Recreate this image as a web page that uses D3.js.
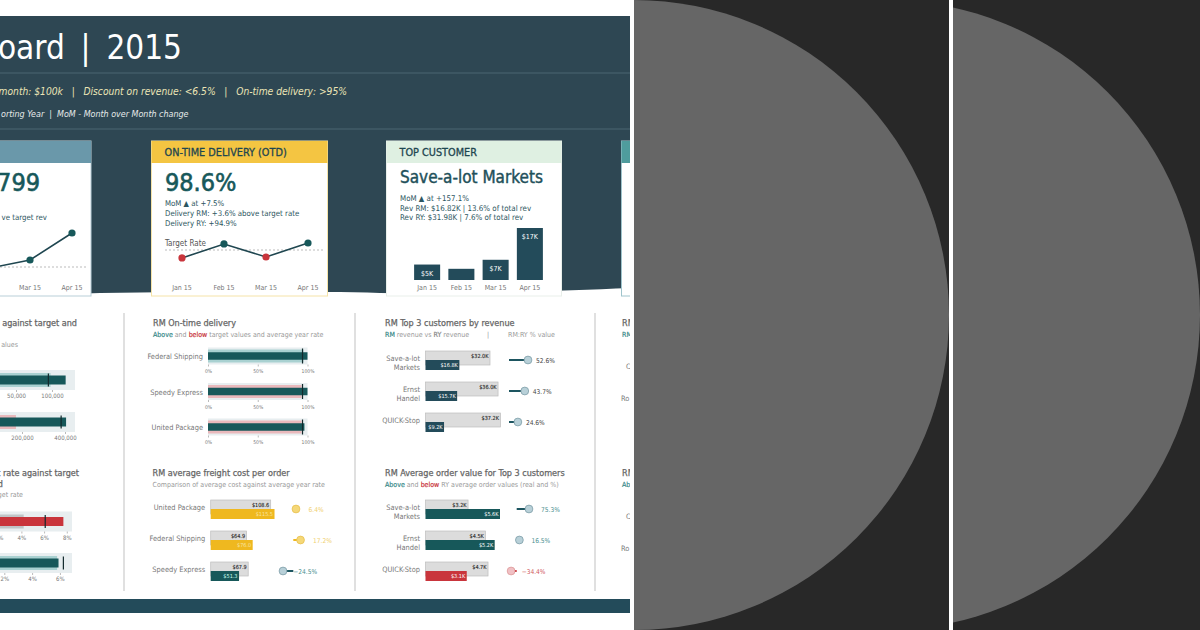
<!DOCTYPE html>
<html>
<head>
<meta charset="utf-8">
<script src="https://cdn.jsdelivr.net/npm/d3@7"></script>
<style>
  html, body { margin: 0; padding: 0; background: #fff; }
  svg { display: block; }
  text { font-family: "DejaVu Sans Condensed", "DejaVu Sans", sans-serif; font-stretch: condensed; white-space: pre; }
</style>
</head>
<body>
<div id="chart"></div>
<script>
// monthly data
const months = ["Jan 15", "Feb 15", "Mar 15", "Apr 15"];
const revenueK = [92, 99, 104.9, 123.8];
const otdRate = [90.9, 98.1, 91.4, 98.6];
const topCustomerK = [5.0, 3.62, 6.54, 16.82];
const topCustomerLabels = ["$5K", "", "$7K", "$17K"];

// bullet charts, left column
const revValues = [119000, 405000];
const revTargets = [95000, 382000];
const revYearAvg = [98000, 172000];
const discValues = [7.7, 5.9];
const discTargets = [6.1, 6.25];
const discYearAvg = [4.2, 5.8];

// on-time delivery bullets
const shippers = ["Federal Shipping", "Speedy Express", "United Package"];
const shipperOtd = [100, 100, 96.9];
const shipperTarget = [95, 95, 95];
const shipperYearAvg = [96, 94, 94];

// freight
const freightNames = ["United Package", "Federal Shipping", "Speedy Express"];
const freightYear = [108.6, 64.9, 67.9];
const freightMonth = [115.5, 76.0, 51.3];
const freightPct = [6.4, 17.2, -24.5];

// top customers
const customerNames = [["Save-a-lot", "Markets"], ["Ernst", "Handel"], ["QUICK-Stop"]];
const customerRevYear = [32.0, 36.0, 37.2];
const customerRevMonth = [16.8, 15.7, 9.2];
const customerRevPct = [52.6, 43.7, 24.6];
const orderYear = [3.2, 4.5, 4.7];
const orderMonth = [5.6, 5.2, 3.1];
const orderPct = [75.3, 16.5, -34.4];

const TEAL = "#17585a", NAVY = "#234b5a", RED = "#c9353c", YELLOW = "#efb81f";
const INK = "#2c5560", GREY = "#999", TITLE = "#666";

const svg = d3.select("#chart").append("svg").attr("width", 1200).attr("height", 630);
svg.append("rect").attr("width", 1200).attr("height", 630).attr("fill", "#fff");

const defs = svg.append("defs");
function clip(id, x, w) {
  defs.append("clipPath").attr("id", id).append("rect")
    .attr("x", x).attr("y", 0).attr("width", w).attr("height", 630);
}
clip("dash-clip", 0, 630);
clip("panel-a", 634, 315);
clip("panel-b", 953, 247);

// the two dark panels on the right
[["panel-a", 634, 315, 634], ["panel-b", 953, 247, 885]].forEach(([id, x, w, cx]) => {
  const p = svg.append("g").attr("clip-path", `url(#${id})`);
  p.append("rect").attr("x", x).attr("y", 0).attr("width", w).attr("height", 630).attr("fill", "#282828");
  p.append("circle").attr("cx", cx).attr("cy", 315).attr("r", 315).attr("fill", "#666");
});

const dash = svg.append("g").attr("clip-path", "url(#dash-clip)");

function txt(g, x, y, s, o = {}) {
  const t = g.append("text").attr("x", x).attr("y", y).text(s)
    .attr("font-size", o.size || 8)
    .attr("fill", o.fill || INK)
    .attr("font-weight", o.weight || "normal")
    .attr("font-style", o.style || "normal")
    .attr("text-anchor", o.anchor || "start");
  if (o.heavy) t.attr("stroke", o.fill || INK).attr("stroke-width", o.heavy);
  return t;
}

function rich(g, x, y, size, parts) {
  const t = g.append("text").attr("x", x).attr("y", y).attr("font-size", size);
  parts.forEach(p => {
    const s = t.append("tspan").text(p[0]).attr("fill", p[1]);
    if (p[2]) s.attr("stroke", p[1]).attr("stroke-width", p[2]);
  });
  return t;
}

// header band
dash.append("path").attr("fill", "#2e4753")
  .attr("d", "M0,16H630V288C560,291 480,294 380,293C300,291 200,292 100,293C60,294 30,296 0,296Z");
[73, 129].forEach(y => dash.append("line").attr("x1", 0).attr("x2", 630).attr("y1", y).attr("y2", y)
  .attr("stroke", "#4a6672").attr("stroke-width", 1));
txt(dash, 182, 58.5, "oard  |  2015", { size: 33, fill: "#fff", anchor: "end" }).attr("word-spacing", -1.5);
txt(dash, 347, 95, "month: $100k   |   Discount on revenue: <6.5%   |   On-time delivery: >95%",
  { size: 10.2, fill: "#ece5b6", style: "italic", anchor: "end" });
txt(dash, 188.5, 117, "orting Year  |  MoM - Month over Month change",
  { size: 8.9, fill: "#e6eaea", style: "italic", anchor: "end" });

function card(x, w, headColor, border, label) {
  dash.append("rect").attr("x", x).attr("y", 141).attr("width", w).attr("height", 155)
    .attr("fill", "#fff").attr("stroke", border).attr("stroke-width", 1);
  dash.append("rect").attr("x", x).attr("y", 141).attr("width", w).attr("height", 22).attr("fill", headColor);
  if (label) txt(dash, x + 13, 156, label, { size: 10.8, heavy: 0.3, fill: "#1e4650" });
}
card(-60, 151, "#6a98aa", "#b9cfd8");
card(151.5, 176, "#f4c542", "#f5e3a8", "ON-TIME DELIVERY (OTD)");
card(386.5, 175, "#dff0e2", "#e9efea", "TOP CUSTOMER");
card(621.5, 60, "#4f9c9d", "#9fc4cc");

const monthLabel = { size: 7, fill: "#777", anchor: "middle" };

// sparkline cards
function spark(values, x0, x1, y, target, colorFn, targetRight) {
  const x = d3.scalePoint().domain(months).range([x0, x1]);
  dash.append("line").attr("x1", target.from).attr("x2", targetRight)
    .attr("y1", y(target.value)).attr("y2", y(target.value))
    .attr("stroke", "#bbb").attr("stroke-width", 1).attr("stroke-dasharray", "2,2");
  const line = d3.line().x((d, i) => x(months[i])).y(d => y(d));
  dash.append("path").attr("d", line(values)).attr("fill", "none").attr("stroke", "#1f4650").attr("stroke-width", 1.6);
  dash.selectAll(null).data(values).join("circle")
    .attr("cx", (d, i) => x(months[i])).attr("cy", d => y(d)).attr("r", 3.6)
    .attr("fill", d => colorFn(d));
  months.filter(m => x(m) > 0).forEach(m => txt(dash, x(m), 290, m, monthLabel));
}

txt(dash, 40, 191, "799", { size: 25, heavy: 0.6, fill: TEAL, anchor: "end" });
txt(dash, 47, 220, "ve target rev", { size: 7.8, anchor: "end" });
spark(revenueK, -54, 72, d3.scaleLinear().domain([100, 123.8]).range([267, 233]),
  { value: 100, from: -60 }, () => TEAL, 88);

txt(dash, 165, 191, "98.6%", { size: 25, heavy: 0.6, fill: TEAL });
txt(dash, 165, 206, "MoM ▲ at +7.5%", { size: 7.8 });
txt(dash, 165, 216, "Delivery RM: +3.6% above target rate", { size: 7.8 });
txt(dash, 165, 226, "Delivery RY: +94.9%", { size: 7.8 });
txt(dash, 165, 246, "Target Rate", { size: 8, fill: "#555" });
spark(otdRate, 182, 308, d3.scaleLinear().domain([95, 98.6]).range([250, 243]),
  { value: 95, from: 165 }, d => d < 95 ? RED : TEAL, 323);

txt(dash, 400, 183, "Save-a-lot Markets", { size: 17, heavy: 0.4, fill: "#22505a" });
txt(dash, 400, 201, "MoM ▲ at +157.1%", { size: 7.9 });
txt(dash, 400, 210.5, "Rev RM: $16.82K | 13.6% of total rev", { size: 7.9 });
txt(dash, 400, 220, "Rev RY: $31.98K | 7.6% of total rev", { size: 7.9 });

const custX = d3.scaleBand().domain(months).range([410, 547]).paddingInner(0.24).paddingOuter(0.12);
const custY = d3.scaleLinear().domain([0, 16.82]).range([280, 228]);
dash.selectAll(null).data(topCustomerK).join("rect")
  .attr("x", (d, i) => custX(months[i])).attr("width", custX.bandwidth())
  .attr("y", d => custY(d)).attr("height", d => custY(0) - custY(d)).attr("fill", NAVY);
topCustomerK.forEach((d, i) => {
  if (topCustomerLabels[i]) txt(dash, custX(months[i]) + custX.bandwidth() / 2, custY(d) + 11, topCustomerLabels[i],
    { size: 7, fill: "#fff", anchor: "middle" });
  txt(dash, custX(months[i]) + custX.bandwidth() / 2, 290, months[i], monthLabel);
});

// column rules and footer
[124, 355, 595].forEach(x => dash.append("line").attr("x1", x).attr("x2", x).attr("y1", 313).attr("y2", 591)
  .attr("stroke", "#ccc").attr("stroke-width", 1.2));
dash.append("rect").attr("x", 0).attr("y", 599).attr("width", 630).attr("height", 14).attr("fill", NAVY);

// titles
const titleOpts = { size: 9, heavy: 0.25, fill: TITLE };
const subOpts = { size: 7, fill: GREY };
const HI = "#3a8a8a";
txt(dash, 77, 326, "against target and", { ...titleOpts, anchor: "end" });
txt(dash, 18, 347, "alues", { ...subOpts, anchor: "end" });
txt(dash, 79, 476, "t rate against target", { ...titleOpts, anchor: "end" });
txt(dash, 3, 487, "d", { ...titleOpts, anchor: "end" });
txt(dash, 23, 497, "get rate", { ...subOpts, anchor: "end" });

txt(dash, 153, 326, "RM On-time delivery", titleOpts);
rich(dash, 153, 337, 7, [["Above", HI, 0.2], [" and ", GREY], ["below", RED, 0.2], [" target values and average year rate", GREY]]);
txt(dash, 152.5, 476, "RM average freight cost per order", titleOpts);
txt(dash, 152.5, 487, "Comparison of average cost against average year rate", subOpts);
txt(dash, 385, 326, "RM Top 3 customers by revenue", titleOpts);
rich(dash, 385, 337, 7, [["RM", HI, 0.2], [" revenue vs ", GREY], ["RY", "#888", 0.2], [" revenue", GREY]]);
txt(dash, 487, 337, "|", subOpts);
txt(dash, 508, 337, "RM:RY % value", subOpts);
txt(dash, 385, 476, "RM Average order value for Top 3 customers", titleOpts);
rich(dash, 385, 487, 7, [["Above", HI, 0.2], [" and ", GREY], ["below", RED, 0.2], [" RY average order values (real and %)", GREY]]);

// clipped fourth column
txt(dash, 622, 326, "RM", titleOpts);
txt(dash, 622, 337, "RM", { size: 7, heavy: 0.2, fill: HI });
txt(dash, 626, 369, "C", { size: 7.4, fill: "#777" });
txt(dash, 621, 401, "Ro", { size: 7.4, fill: "#777" });
txt(dash, 622, 476, "RM", titleOpts);
txt(dash, 622, 487, "Above", { size: 7, heavy: 0.2, fill: HI });
txt(dash, 626, 519, "C", { size: 7.4, fill: "#777" });
txt(dash, 621, 551, "Ro", { size: 7.4, fill: "#777" });

// bullet chart: background, year band, measure bar, target marker, axis
function bullet(o) {
  const g = dash.append("g");
  const [r0, r1] = o.scale.range();
  g.append("rect").attr("x", r0).attr("width", r1 - r0).attr("y", o.cy - o.bgH / 2).attr("height", o.bgH).attr("fill", "#e8eef0");
  g.append("rect").attr("x", r0).attr("width", o.scale(o.band) - r0).attr("y", o.cy - o.bandH / 2).attr("height", o.bandH).attr("fill", o.bandColor);
  g.append("rect").attr("x", r0).attr("width", o.scale(o.value) - r0).attr("y", o.cy - o.barH / 2).attr("height", o.barH).attr("fill", o.barColor);
  g.append("line").attr("x1", o.scale(o.target)).attr("x2", o.scale(o.target))
    .attr("y1", o.cy - o.markH / 2).attr("y2", o.cy + o.markH / 2).attr("stroke", "#12292c").attr("stroke-width", 1.2);
  const axis = g.append("g").attr("transform", `translate(0,${o.cy + o.bgH / 2})`)
    .call(d3.axisBottom(o.scale).tickValues(o.ticks).tickFormat(o.fmt).tickSize(2).tickPadding(o.pad));
  axis.select(".domain").remove();
  axis.selectAll("line").attr("stroke", "#bbb");
  axis.selectAll("text").attr("font-size", o.font).attr("fill", "#777");
}

const fmtK = d3.format(",");
const fmtPct = d => d + "%";
const bandTeal = "#a9d1d1", bandRed = "#e9b9bc", bandGrey = "#c0c5c7";
const wide = { bgH: 20, bandH: 14, barH: 9, markH: 13, font: 6, pad: 2 };

bullet({ ...wide, scale: d3.scaleLinear().domain([0, 132000]).range([-20, 75]), cy: 380, value: revValues[0], target: revTargets[0],
  band: revYearAvg[0], bandColor: bandTeal, barColor: TEAL, ticks: [50000, 100000], fmt: fmtK });
bullet({ ...wide, scale: d3.scaleLinear().domain([0, 446500]).range([-21, 75]), cy: 422, value: revValues[1], target: revTargets[1],
  band: revYearAvg[1], bandColor: bandRed, barColor: TEAL, ticks: [200000, 400000], fmt: fmtK });
bullet({ ...wide, scale: d3.scaleLinear().domain([0, 8.46]).range([-24, 72]), cy: 521.5, value: discValues[0], target: discTargets[0],
  band: discYearAvg[0], bandColor: bandGrey, barColor: RED, ticks: [2, 4, 6, 8], fmt: fmtPct });
bullet({ ...wide, scale: d3.scaleLinear().domain([0, 6.87]).range([-23.5, 72]), cy: 563, value: discValues[1], target: discTargets[1],
  band: discYearAvg[1], bandColor: bandTeal, barColor: TEAL, ticks: [2, 4, 6], fmt: fmtPct });

const otdX = d3.scaleLinear().domain([0, 100]).range([208, 307.5]);
const otdY = d3.scalePoint().domain(shippers).range([356, 427]);
shippers.forEach((s, i) => {
  txt(dash, 203, otdY(s) + 3, s, { size: 7.4, fill: "#777", anchor: "end" });
  bullet({ scale: otdX, cy: otdY(s), value: shipperOtd[i], target: shipperTarget[i], band: shipperYearAvg[i],
    bandColor: shipperYearAvg[i] >= shipperTarget[i] ? bandTeal : bandRed, barColor: TEAL,
    bgH: 17, bandH: 13, barH: 7.5, markH: 15, font: 5, pad: 3, ticks: [0, 50, 100], fmt: fmtPct });
});

// year vs month comparison bars with a lollipop percent change on the right
function compare(o) {
  const x = d3.scaleLinear().domain([0, o.max]).range([o.x0, o.x1]);
  const y = d3.scaleBand().domain(o.names.map(String)).range([o.top, o.top + 93]);
  const p = d3.scaleLinear().domain([0, 100]).range([o.zero, o.zero + o.pctW]);
  o.names.forEach((n, i) => {
    const t = y(String(n));
    const names = Array.isArray(n) ? n : [n];
    const ly = names.length > 1 ? [t + 9.5, t + 18.5] : [t + 9.5];
    names.forEach((line, k) => txt(dash, o.x0 - 5.5, ly[k], line, { size: 7.4, fill: "#777", anchor: "end" }));

    dash.append("rect").attr("x", x(0)).attr("width", x(o.base[i]) - x(0)).attr("y", t).attr("height", 14)
      .attr("fill", "#dcdcdc").attr("stroke", "#bdbdbd").attr("stroke-width", 0.7);
    const color = o.barColor(o.pct[i]);
    dash.append("rect").attr("x", x(0)).attr("width", x(o.cur[i]) - x(0)).attr("y", t + 9).attr("height", 10).attr("fill", color);
    txt(dash, x(o.base[i]) - 1.5, t + 7, o.fmt(o.base[i]), { size: 5.5, heavy: 0.1, fill: "#222", anchor: "end" });
    txt(dash, x(o.cur[i]) - 1.5, t + 16.2, o.fmt(o.cur[i]), { size: 5.5, fill: o.curText(o.pct[i]), anchor: "end" });

    const cy = t + 9;
    const tone = o.tone(o.pct[i]);
    dash.append("line").attr("x1", p(0)).attr("x2", p(o.pct[i])).attr("y1", cy).attr("y2", cy)
      .attr("stroke", tone.line).attr("stroke-width", 2);
    dash.append("circle").attr("cx", p(o.pct[i])).attr("cy", cy).attr("r", 3.9)
      .attr("fill", tone.knob).attr("stroke", tone.ring).attr("stroke-width", 0.8);
    const lx = o.pct[i] >= 0 ? p(o.pct[i]) + o.gap : p(0) + o.negGap;
    txt(dash, lx, cy + 2.5, (o.pct[i] < 0 ? "−" : "") + Math.abs(o.pct[i]) + "%", { size: 6.6, fill: tone.text });
  });
}

const tealTone = { line: "#1d5560", knob: "#b8d0d8", ring: "#7f9ea8", text: "#4a8f8f" };
const redTone = { line: RED, knob: "#f0c0c4", ring: "#d99", text: "#d05a60" };
const yellowTone = { line: YELLOW, knob: "#f5d878", ring: "#e8c050", text: "#f0d070" };

compare({ names: customerNames, base: customerRevYear, cur: customerRevMonth, pct: customerRevPct, max: 32, x0: 425.5, x1: 490, top: 351,
  zero: 509, pctW: 36.1, gap: 8, negGap: 5, fmt: d => "$" + d.toFixed(1) + "K",
  barColor: () => NAVY, curText: () => "#fff", tone: () => ({ ...tealTone, text: "#444" }) });

compare({ names: customerNames, base: orderYear, cur: orderMonth, pct: orderPct, max: 5.6, x0: 425.5, x1: 500, top: 500,
  zero: 516.7, pctW: 16.3, gap: 12, negGap: 5, fmt: d => "$" + d.toFixed(1) + "K",
  barColor: v => v < 0 ? RED : TEAL, curText: () => "#fff", tone: v => v < 0 ? redTone : tealTone });

compare({ names: freightNames, base: freightYear, cur: freightMonth, pct: freightPct, max: 108.6, x0: 210.7, x1: 270.7, top: 500,
  zero: 293.3, pctW: 42, gap: 12.5, negGap: 0, fmt: d => "$" + d.toFixed(1),
  barColor: v => v < 0 ? TEAL : YELLOW, curText: v => v < 0 ? "#cfe" : "#f7e3a0", tone: v => v < 0 ? tealTone : yellowTone });
</script>
</body>
</html>
